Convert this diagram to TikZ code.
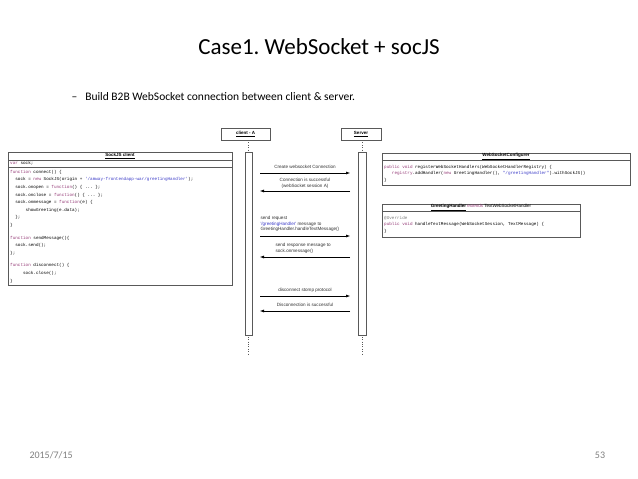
\documentclass[tikz,border=0pt]{standalone}
\usepackage{fontspec}
\setmainfont{Carlito}
\newfontfamily\dia{Liberation Sans}
\newfontfamily\code{Liberation Mono}
\usetikzlibrary{arrows.meta}
\definecolor{kw}{RGB}{150,60,120}
\definecolor{st}{RGB}{60,60,200}
\frenchspacing
\tikzset{
 box/.style={draw=gray!70!black,fill=white,line width=0.5pt},
 bar/.style={draw=gray!70!black,fill=white,line width=0.5pt},
 msg/.style={-{Latex[length=4pt,width=3pt]},line width=0.5pt},
 lbl/.style={font=\dia\fontsize{4.6}{5.6}\selectfont,align=center,text=black!80},
 cd/.style={font=\code\fontsize{4.3}{7.6}\selectfont,anchor=north west,align=left,inner sep=1pt}
}
\newcommand{\K}[1]{\textcolor{kw}{#1}}
\newcommand{\Sg}[1]{\textcolor{st}{#1}}
\begin{document}
\begin{tikzpicture}[x=1pt,y=-1pt]
\useasboundingbox (0,0) rectangle (638,479);
\fill[white] (0,0) rectangle (638,479);
\node (title) at (319,47) {\fontsize{23}{27}\selectfont Case1. WebSocket + socJS};
\node[anchor=west] (bul) at (68,97) {\fontsize{11.5}{14}\selectfont –\hspace{8pt}Build B2B WebSocket connection between client \& server.};
\node[anchor=west,text=gray] (date) at (26,455) {\fontsize{10}{12}\selectfont 2015/7/15};
\node[text=gray] (pg) at (600,455) {\fontsize{10}{12}\selectfont 53};
% SockJS client
\draw[box] (8,152) rectangle (232,285);
\draw[gray!70!black,line width=0.5pt] (8,160) -- (232,160) (8,167) -- (232,167);
\node[font=\dia\fontsize{4.5}{5}\selectfont\bfseries] (sh) at (120,156) {\underline{SockJS client}};
\node[cd] (v) at (9,160.3) {\K{var} sock;};
\node[cd] (c1) at (9,169) {\K{function} connect() \{\\
\ \ sock = \K{new} SockJS(origin + \Sg{'/amway-frontendapp-war/greetingHandler'});\\
\ \ sock.onopen = \K{function}() \{ ... \};\\
\ \ sock.onclose = \K{function}() \{ ... \};\\
\ \ sock.onmessage = \K{function}(e) \{\\
\ \ \ \ \ \ showGreeting(e.data);\\
\ \ \};\\
\}\\[5pt]
\K{function} sendMessage()\{\\
\ \ sock.send();\\
\};\\[5pt]
\K{function} disconnect() \{\\
\ \ \ \ \ sock.close();\\
\}};
% lifelines
\node[box,minimum width=49pt,minimum height=12pt,inner sep=0pt,font=\dia\fontsize{4.5}{5}\selectfont\bfseries] (ca) at (245.5,134) {\underline{client - A}};
\node[box,minimum width=40pt,minimum height=12pt,inner sep=0pt,font=\dia\fontsize{4.5}{5}\selectfont\bfseries] (sv) at (361,134) {\underline{Server}};
\coordinate (cat) at (248.5,140); \coordinate (svt) at (362,140);
\coordinate (cab) at (248.5,355); \coordinate (svb) at (362,355);
\draw[gray!70!black,dotted] (cat) -- (cab);
\draw[gray!70!black,dotted] (svt) -- (svb);
\draw[bar] (245,152) rectangle (252,335);
\draw[bar] (358,152) rectangle (366,335);
% messages
\coordinate (l1) at (260,173); \coordinate (r1) at (350,173);
\coordinate (l2) at (260,191); \coordinate (r2) at (350,191);
\coordinate (l3) at (260,236); \coordinate (r3) at (350,236);
\coordinate (l4) at (260,257); \coordinate (r4) at (350,257);
\coordinate (l5) at (260,296); \coordinate (r5) at (350,296);
\coordinate (l6) at (260,311); \coordinate (r6) at (350,311);
\draw[msg] (l1) -- (r1); \draw[msg] (r2) -- (l2);
\draw[msg] (l3) -- (r3); \draw[msg] (r4) -- (l4);
\draw[msg] (l5) -- (r5); \draw[msg] (r6) -- (l6);
\node[lbl] (m1) at (305,167) {Create websocket Connection};
\node[lbl] (m2) at (305,183.5) {Connection is successful\\(webSocket session A)};
\node[lbl,align=left,anchor=west] (m3) at (257,224) {send request\\\textcolor{st}{'/greetingHandler'} message to\\GreetingHandler.handleTextMessage()};
\node[lbl,align=left,anchor=west] (m4) at (272,248.5) {send response message to\\sock.onmessage()};
\node[lbl] (m5) at (305,290) {disconnect stomp protocol};
\node[lbl] (m6) at (305,305) {Disconnection is successful};
% WebSocketConfigurer
\draw[box] (382,153) rectangle (630,185);
\draw[gray!70!black,line width=0.5pt] (382,160) -- (630,160);
\node[font=\dia\fontsize{4.5}{5}\selectfont\bfseries] (wh) at (506,156.5) {\underline{WebSocketConfigurer}};
\node[cd,font=\code\fontsize{4.3}{6.6}\selectfont] (w1) at (383,164) {\K{public void} registerWebSocketHandlers(WebSocketHandlerRegistry) \{\\
\ \ \ \K{registry}.addHandler(\K{new} GreetingHandler(), \Sg{"/greetingHandler"}).withSockJS()\\
\}};
% GreetingHandler
\draw[box] (382,204) rectangle (580,237);
\draw[gray!70!black,line width=0.5pt] (382,211) -- (580,211);
\node[font=\dia\fontsize{4.5}{5}\selectfont] (gh) at (481,207.5) {\textbf{\underline{GreetingHandler}} \K{extends} TextWebSocketHandler};
\node[cd,font=\code\fontsize{4.3}{6.6}\selectfont] (g1) at (383,215) {\textcolor{gray}{@Override}\\
\K{public void} handleTextMessage(WebSocketSession, TextMessage) \{\\
\}};
\end{tikzpicture}
\end{document}
